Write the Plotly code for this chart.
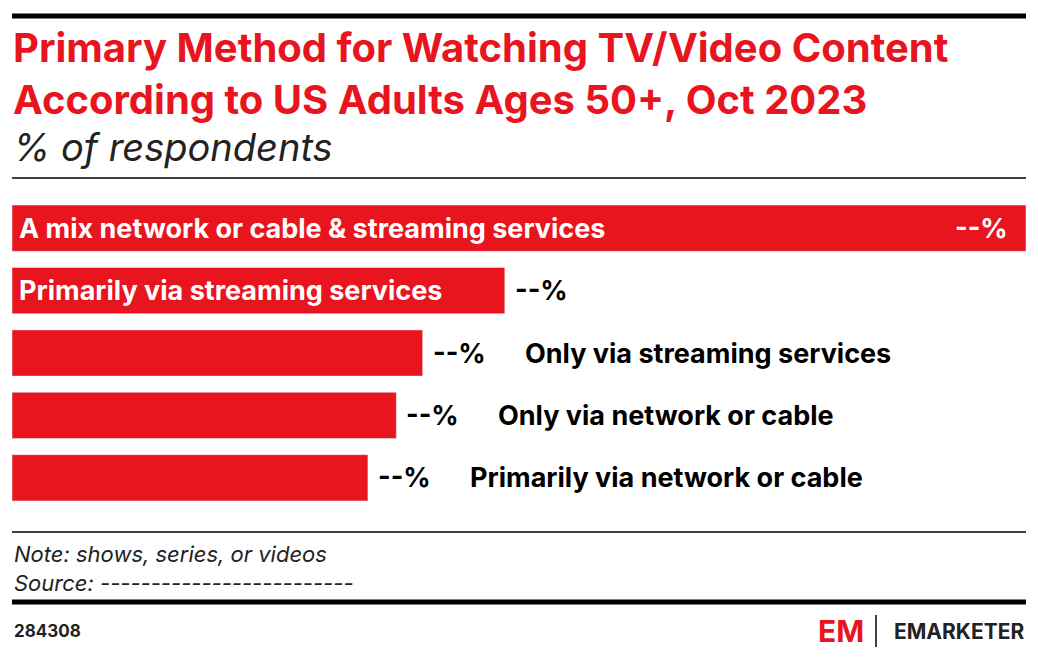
import plotly.graph_objects as go

categories = ["A mix network or cable & streaming services", "Primarily via streaming services",
              "Only via streaming services", "Only via network or cable", "Primarily via network or cable"]
values = [100, 48.6, 40.5, 37.9, 35.1]
value_labels = ["--%", "--%", "--%", "--%", "--%"]
inside = [True, True, False, False, False]

RED = "#e8141e"
F = "Inter"
W, H = 1038, 660
L, R, T, B = 12, 12, 197, 151

fig = go.Figure(go.Bar(x=values, y=categories, orientation="h", marker_color=RED,
                       width=0.74, hoverinfo="skip"))
ann = []
for c, v, lab, ins in zip(categories, values, value_labels, inside):
    if ins:
        ann.append(dict(x=0, y=c, text=f"<b>{c}</b>", showarrow=False, xanchor="left",
                        xshift=5, font=dict(color="white", size=27, family=F)))
    if v >= 90:
        ann.append(dict(x=v, y=c, text=f"<b>{lab}</b>", showarrow=False, xanchor="right",
                        xshift=-16, font=dict(color="white", size=27, family=F)))
    else:
        ann.append(dict(x=v, y=c, text=f"<b>{lab}</b>", showarrow=False, xanchor="left",
                        xshift=8, font=dict(color="black", size=27, family=F)))
    if not ins:
        ann.append(dict(x=v, y=c, text=f"<b>{c}</b>", showarrow=False, xanchor="left",
                        xshift=100, font=dict(color="black", size=27, family=F)))

def py(p):
    return 1 - (p - T) / (H - T - B)
def px(p):
    return (p - L) / (W - L - R)

ann += [
    dict(xref="paper", yref="paper", x=px(11), y=py(21), xanchor="left", yanchor="top", showarrow=False,
         align="left", text="<b>Primary Method for Watching TV/Video Content<br>According to US Adults Ages 50+, Oct 2023</b>",
         font=dict(color=RED, size=40, family=F)),
    dict(xref="paper", yref="paper", x=px(11), y=py(122), xanchor="left", yanchor="top", showarrow=False,
         text="<i>% of respondents</i>", font=dict(color="#222", size=38, family=F)),
    dict(xref="paper", yref="paper", x=px(12), y=py(539), xanchor="left", yanchor="top", showarrow=False,
         align="left", text="<i>Note: shows, series, or videos<br>Source: -------------------------</i>",
         font=dict(color="#222", size=22, family=F)),
    dict(xref="paper", yref="paper", x=px(12), y=py(631), xanchor="left", yanchor="middle", showarrow=False,
         text="<b>284308</b>", font=dict(color="#222", size=17, family=F)),
    dict(xref="paper", yref="paper", x=px(816), y=py(631), xanchor="left", yanchor="middle", showarrow=False,
         text="<b>EM</b>", font=dict(color=RED, size=30, family=F)),
    dict(xref="paper", yref="paper", x=px(1026), y=py(631), xanchor="right", yanchor="middle", showarrow=False,
         text="<b>EMARKETER</b>", font=dict(color="#222", size=21, family=F)),
]
shapes = [
    dict(type="line", xref="paper", yref="paper", x0=px(12), x1=px(1026), y0=py(16), y1=py(16), line=dict(color="black", width=5)),
    dict(type="line", xref="paper", yref="paper", x0=px(12), x1=px(1026), y0=py(178), y1=py(178), line=dict(color="black", width=1.5)),
    dict(type="line", xref="paper", yref="paper", x0=px(12), x1=px(1026), y0=py(532), y1=py(532), line=dict(color="black", width=1.5)),
    dict(type="line", xref="paper", yref="paper", x0=px(12), x1=px(1026), y0=py(602), y1=py(602), line=dict(color="black", width=5)),
    dict(type="line", xref="paper", yref="paper", x0=px(876), x1=px(876), y0=py(615), y1=py(647), line=dict(color="black", width=1.5)),
]
fig.update_layout(width=W, height=H, margin=dict(l=L, r=R, t=T, b=B), plot_bgcolor="white",
                  paper_bgcolor="white", showlegend=False, annotations=ann, shapes=shapes, bargap=0.26)
fig.update_xaxes(visible=False, range=[0, 100])
fig.update_yaxes(visible=False, autorange="reversed")
fig.write_html("out.html", config={"displayModeBar": False},
               post_script="document.body.style.margin='0';document.body.style.overflow='hidden';")
